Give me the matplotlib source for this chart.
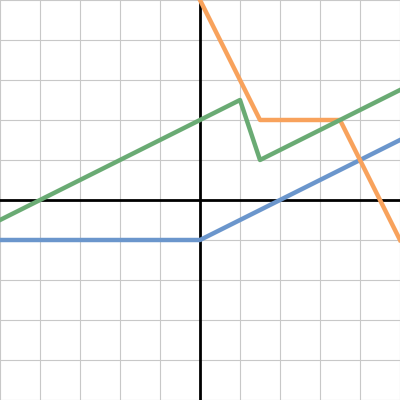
import matplotlib
matplotlib.use("Agg")
import matplotlib.pyplot as plt

blue_x = [-5, 0, 5]
blue_y = [-1, -1, 1.5]
orange_x = [0, 1.5, 3.5, 5]
orange_y = [5, 2, 2, -1]
green_x = [-5, 1, 1.5, 5]
green_y = [-0.5, 2.5, 1, 2.75]

fig = plt.figure(figsize=(4, 4), dpi=100)
ax = fig.add_axes([0, 0, 1, 1])
ax.set_xlim(-5, 5)
ax.set_ylim(-5, 5)
for v in range(-5, 6):
    ax.axvline(v, color="#c8c8c8", lw=0.8, zorder=0)
    ax.axhline(v, color="#c8c8c8", lw=0.8, zorder=0)
ax.axvline(0, color="black", lw=2, zorder=1)
ax.axhline(0, color="black", lw=2, zorder=1)
ax.plot(blue_x, blue_y, color="#6b96cc", lw=3.2, zorder=2)
ax.plot(orange_x, orange_y, color="#f8a25c", lw=3.2, zorder=2)
ax.plot(green_x, green_y, color="#6aab74", lw=3.2, zorder=2)
ax.set_xticks([]); ax.set_yticks([])
for s in ax.spines.values():
    s.set_visible(False)
fig.savefig("out.png", dpi=100)
